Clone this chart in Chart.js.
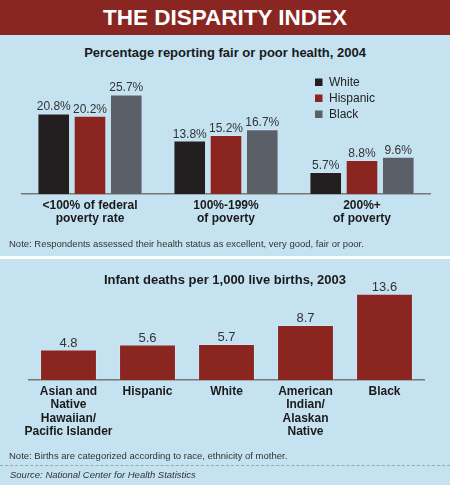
<!DOCTYPE html>
<html>
<head>
<meta charset="utf-8">
<script src="https://cdn.jsdelivr.net/npm/chart.js@4.4.1/dist/chart.umd.min.js"></script>
<style>
  body { margin: 0; }
  #page {
    position: relative; width: 450px; height: 485px; overflow: hidden;
    background: #c5e2f1; font-family: "Liberation Sans", Arial, sans-serif;
  }
  .header {
    position: absolute; left: 0; top: 0; width: 450px; height: 35px;
    background: #8a2621; color: #fff; font-weight: bold; font-size: 22.5px;
    text-align: center; line-height: 36px;
  }
  .divider { position: absolute; left: 0; top: 256px; width: 450px; height: 3px; background: #fff; }
  .subtitle {
    position: absolute; left: 0; width: 450px; text-align: center;
    font-weight: bold; font-size: 13px; line-height: 15px; color: #1a1a1a;
  }
  .note { position: absolute; left: 9px; font-size: 9.5px; line-height: 11px; color: #333; white-space: nowrap; }
  .source { font-style: italic; left: 10px; }
  .dash { position: absolute; left: 0; top: 465px; width: 450px; border-top: 1px dashed #9aa; }
  canvas { position: absolute; left: 0; }
</style>
</head>
<body>
<div id="page">
  <div class="header">THE DISPARITY INDEX</div>
  <div class="subtitle" style="top:45px">Percentage reporting fair or poor health, 2004</div>
  <canvas id="healthChart" width="450" height="209" style="top:35px"></canvas>
  <div class="note" style="top:237.5px">Note: Respondents assessed their health status as excellent, very good, fair or poor.</div>
  <div class="divider"></div>
  <div class="subtitle" style="top:271.5px">Infant deaths per 1,000 live births, 2003</div>
  <canvas id="infantChart" width="450" height="186" style="top:259px"></canvas>
  <div class="note" style="top:449.5px">Note: Births are categorized according to race, ethnicity of mother.</div>
  <div class="dash"></div>
  <div class="note source" style="top:468.5px">Source: National Center for Health Statistics</div>
</div>
<script>
const FONT = '"Liberation Sans", Arial, sans-serif';

// chart 1: fair or poor health by poverty level
const povertyLabels = [["<100% of federal", "poverty rate"], ["100%-199%", "of poverty"], ["200%+", "of poverty"]];
const groupNames = ["White", "Hispanic", "Black"];
const whiteValues = [20.8, 13.8, 5.7];
const hispanicValues = [20.2, 15.2, 8.8];
const blackValues = [25.7, 16.7, 9.6];
const groupColors = ["#231f20", "#8a2520", "#5b6068"];

// chart 2: infant deaths
const infantLabels = [["Asian and", "Native", "Hawaiian/", "Pacific Islander"], "Hispanic", "White", ["American", "Indian/", "Alaskan", "Native"], "Black"];
const infantValues = [4.8, 5.6, 5.7, 8.7, 13.6];

const valueLabels = {
  id: "valueLabels",
  afterDatasetsDraw(chart, args, opts) {
    const { ctx } = chart;
    ctx.save();
    ctx.font = opts.font;
    ctx.fillStyle = "#333";
    ctx.textAlign = "center";
    ctx.textBaseline = "alphabetic";
    chart.data.datasets.forEach((ds, i) => {
      chart.getDatasetMeta(i).data.forEach((bar, j) => {
        ctx.fillText(ds.data[j].toFixed(1) + (opts.suffix || ""), bar.x, bar.y - 3);
      });
    });
    ctx.restore();
  },
};

const boxLegend = {
  id: "boxLegend",
  afterDraw(chart, args, opts) {
    if (!opts.show) return;
    const { ctx } = chart;
    ctx.save();
    ctx.font = "12px " + FONT;
    ctx.textBaseline = "middle";
    chart.data.datasets.forEach((ds, i) => {
      const y = opts.top + i * 16;
      ctx.fillStyle = ds.backgroundColor;
      ctx.fillRect(opts.left, y - 3.5, 7.5, 7.5);
      ctx.fillStyle = "#222";
      ctx.fillText(ds.label, opts.left + 14, y + 0.5);
    });
    ctx.restore();
  },
};

function xAxis(height) {
  return {
    grid: { display: false, drawTicks: false },
    border: { display: true, color: "#777", width: 1.5 },
    ticks: {
      color: "#1a1a1a",
      font: { family: FONT, size: 12, weight: "bold", lineHeight: 1.12 },
      padding: 5,
      maxRotation: 0,
      autoSkip: false,
    },
    afterFit(scale) { scale.height = height; },
  };
}

new Chart(document.getElementById("healthChart"), {
  type: "bar",
  data: {
    labels: povertyLabels,
    datasets: [whiteValues, hispanicValues, blackValues].map((values, i) => ({
      label: groupNames[i],
      data: values,
      backgroundColor: groupColors[i],
      borderColor: "rgba(255,255,255,0.15)",
      borderWidth: 1,
      categoryPercentage: 0.8,
      barPercentage: 0.9,
    })),
  },
  plugins: [valueLabels, boxLegend],
  options: {
    responsive: false,
    animation: false,
    layout: { padding: { top: 35, left: 22, right: 20, bottom: 0 } },
    plugins: {
      legend: { display: false },
      tooltip: { enabled: false },
      valueLabels: { font: "12px " + FONT, suffix: "%" },
      boxLegend: { show: true, left: 315, top: 47 },
    },
    scales: {
      x: xAxis(50),
      y: { display: false, min: 0, max: 32 },
    },
  },
});

new Chart(document.getElementById("infantChart"), {
  type: "bar",
  data: {
    labels: infantLabels,
    datasets: [{
      label: "Infant deaths",
      data: infantValues,
      backgroundColor: "#8a2520",
      borderColor: "rgba(255,255,255,0.15)",
      borderWidth: 1,
      categoryPercentage: 1,
      barPercentage: 0.72,
    }],
  },
  plugins: [valueLabels],
  options: {
    responsive: false,
    animation: false,
    layout: { padding: { top: 26, left: 29, right: 26, bottom: 0 } },
    plugins: {
      legend: { display: false },
      tooltip: { enabled: false },
      valueLabels: { font: "13px " + FONT },
    },
    scales: {
      x: xAxis(65),
      y: { display: false, min: 0, max: 15 },
    },
  },
});
</script>
</body>
</html>
